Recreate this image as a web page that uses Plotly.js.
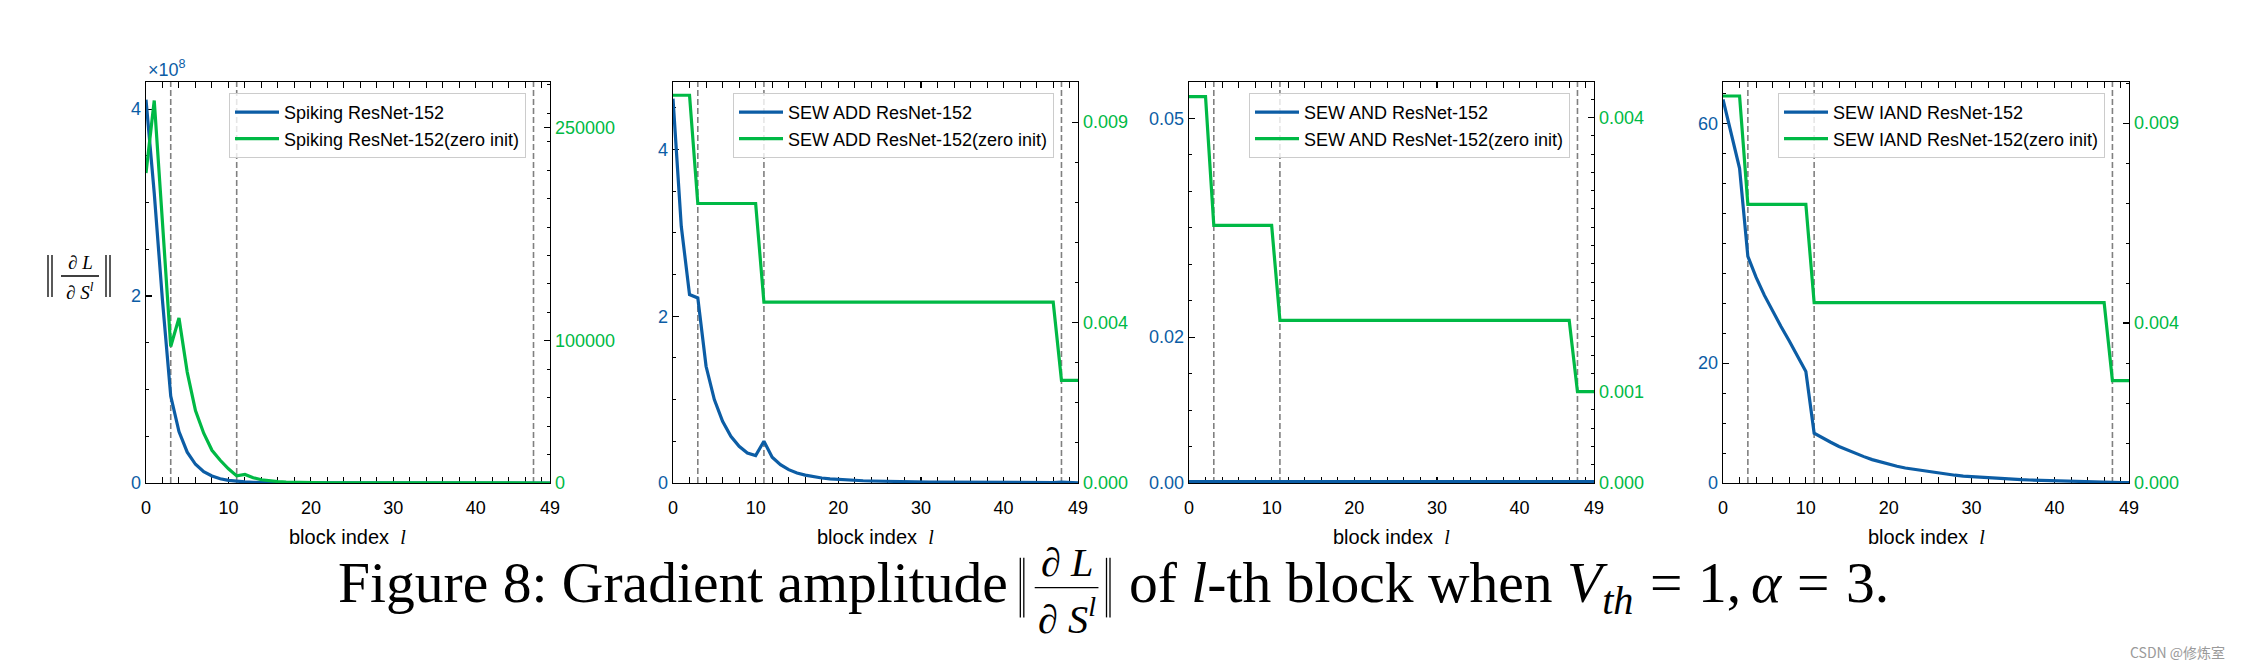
<!DOCTYPE html>
<html>
<head>
<meta charset="utf-8">
<script src="https://cdn.plot.ly/plotly-3.0.1.min.js"></script>
<style>html,body{margin:0;padding:0;background:#fff;}</style>
</head>
<body>
<div id="chart" style="width:2242px;height:669px;"></div>
<script>
// block index 0..49, stage boundaries of ResNet-152 (3, 8, 36, 3 blocks)
var blockIndex = [0,1,2,3,4,5,6,7,8,9,10,11,12,13,14,15,16,17,18,19,20,21,22,23,24,
  25,26,27,28,29,30,31,32,33,34,35,36,37,38,39,40,41,42,43,44,45,46,47,48,49];
var stageBounds = [3, 11, 47];

var seriesNames = ['Spiking ResNet-152', 'SEW ADD ResNet-152', 'SEW AND ResNet-152', 'SEW IAND ResNet-152'];

// left axis values (panel 1 in units of 1e8)
var spikingResNet = [4.10,3.10,1.95,0.93,0.55,0.33,0.20,0.12,0.075,0.045,
  0.028,0.018,0.012,0.008,0.006,0.004,0.003,0.0025,0.002,0.0015,
  0.001,0.001,0.001,0.001,0.001,0.0008,0.0008,0.0007,0.0006,0.0006,
  0.0005,0.0005,0.0004,0.0004,0.0004,0.0003,0.0003,0.0003,0.0003,0.0002,
  0.0002,0.0002,0.0002,0.0002,0.0002,0.0001,0.0001,0.0001,0.0001,0.0001];
var spikingZeroInit = [218000,269000,183000,96000,116000,78000,51000,35000,23000,16000,
  10000,5000,6000,3700,2300,1500,1000,700,500,350,
  250,200,150,120,100,80,70,60,50,40,
  40,30,30,30,20,20,20,20,10,10,
  10,10,10,10,10,10,10,10,10,10];

var sewAdd = [4.61,3.08,2.26,2.22,1.40,1.00,0.74,0.56,0.44,0.36,
  0.33,0.50,0.31,0.22,0.16,0.12,0.095,0.075,0.06,0.05,
  0.042,0.036,0.031,0.027,0.024,0.021,0.019,0.017,0.015,0.014,
  0.013,0.012,0.011,0.010,0.009,0.009,0.008,0.008,0.007,0.007,
  0.006,0.006,0.006,0.005,0.005,0.005,0.005,0.012,0.006,0.002];
var sewAddZeroInit = [0.00967,0.00967,0.00967,0.00697,0.00697,0.00697,0.00697,0.00697,0.00697,0.00697,
  0.00697,0.00451,0.00451,0.00451,0.00451,0.00451,0.00451,0.00451,0.00451,0.00451,
  0.00451,0.00451,0.00451,0.00451,0.00451,0.00451,0.00451,0.00451,0.00451,0.00451,
  0.00451,0.00451,0.00451,0.00451,0.00451,0.00451,0.00451,0.00451,0.00451,0.00451,
  0.00451,0.00451,0.00451,0.00451,0.00451,0.00451,0.00451,0.00256,0.00256,0.00256];

var sewAnd = [0.0002,0.0002,0.0002,0.0002,0.0002,0.0002,0.0002,0.0002,0.0002,0.0002,
  0.0002,0.0002,0.0002,0.0002,0.0002,0.0002,0.0002,0.0002,0.0002,0.0002,
  0.0002,0.0002,0.0002,0.0002,0.0002,0.0002,0.0002,0.0002,0.0002,0.0002,
  0.0002,0.0002,0.0002,0.0002,0.0002,0.0002,0.0002,0.0002,0.0002,0.0002,
  0.0002,0.0002,0.0002,0.0002,0.0002,0.0002,0.0002,0.0002,0.0002,0.0002];
var sewAndZeroInit = [0.00423,0.00423,0.00423,0.00282,0.00282,0.00282,0.00282,0.00282,0.00282,0.00282,
  0.00282,0.00178,0.00178,0.00178,0.00178,0.00178,0.00178,0.00178,0.00178,0.00178,
  0.00178,0.00178,0.00178,0.00178,0.00178,0.00178,0.00178,0.00178,0.00178,0.00178,
  0.00178,0.00178,0.00178,0.00178,0.00178,0.00178,0.00178,0.00178,0.00178,0.00178,
  0.00178,0.00178,0.00178,0.00178,0.00178,0.00178,0.00178,0.00100,0.00100,0.00100];

var sewIand = [64.0,58.2,52.5,37.8,34.3,31.3,28.6,26.1,23.7,21.2,
  18.6,8.3,7.5,6.8,6.1,5.5,4.9,4.4,3.9,3.5,
  3.2,2.8,2.5,2.3,2.0,1.8,1.6,1.45,1.3,1.15,
  1.05,0.95,0.85,0.75,0.68,0.6,0.55,0.5,0.45,0.4,
  0.36,0.32,0.29,0.26,0.23,0.2,0.18,0.08,0.07,0.06];
var sewIandZeroInit = [0.00968,0.00968,0.00968,0.00697,0.00697,0.00697,0.00697,0.00697,0.00697,0.00697,
  0.00697,0.00451,0.00451,0.00451,0.00451,0.00451,0.00451,0.00451,0.00451,0.00451,
  0.00451,0.00451,0.00451,0.00451,0.00451,0.00451,0.00451,0.00451,0.00451,0.00451,
  0.00451,0.00451,0.00451,0.00451,0.00451,0.00451,0.00451,0.00451,0.00451,0.00451,
  0.00451,0.00451,0.00451,0.00451,0.00451,0.00451,0.00451,0.00256,0.00256,0.00256];

// tick labels
var xTickVals = [0, 10, 20, 30, 40, 49];
var leftTickVals = [[0, 2, 4], [0, 2, 4], [0, 0.02, 0.05], [0, 20, 60]];
var leftTickText = [['0', '2', '4'], ['0', '2', '4'], ['0.00', '0.02', '0.05'], ['0', '20', '60']];
var rightTickVals = [[0, 100000, 250000], [0, 0.004, 0.009], [0, 0.001, 0.004], [0, 0.004, 0.009]];
var rightTickText = [['0', '100000', '250000'], ['0.000', '0.004', '0.009'], ['0.000', '0.001', '0.004'], ['0.000', '0.004', '0.009']];

var baseSeries = [spikingResNet, sewAdd, sewAnd, sewIand];
var zeroSeries = [spikingZeroInit, sewAddZeroInit, sewAndZeroInit, sewIandZeroInit];

// layout settings
var W = 2242, H = 669;
var BLUE = '#0C5DA5', GREEN = '#00B945';
var SANS = 'Liberation Sans, Arial, sans-serif';
var SERIF = 'Liberation Serif, Times New Roman, serif';
var boxLeft = [146, 673, 1189, 1723], boxRight = [550, 1078, 1594, 2129];
var boxTop = 82, boxBottom = 483;
var leftRange = [[0, 4.29], [0, 4.81], [0, 0.0550], [0, 66.9]];
var rightRange = [[0, 282000], [0, 0.0100], [0, 0.00439], [0, 0.01003]];
var leftMinor = [0.5, 0.5, 0.005, 5];
var rightMinor = [20000, 0.001, 0.0002, 0.001];

function px(x) { return x / W; }
function py(y) { return 1 - y / H; }

var data = [];
var layout = {
  width: W, height: H,
  margin: {l: 0, r: 0, t: 0, b: 0, pad: 0},
  paper_bgcolor: '#fff', plot_bgcolor: 'rgba(0,0,0,0)',
  font: {family: SANS, size: 18, color: '#000'},
  showlegend: true,
  shapes: [], annotations: []
};

for (var i = 0; i < 4; i++) {
  var xs = i === 0 ? '' : String(i + 1);
  var yl = 2 * i + 1, yr = 2 * i + 2;
  var ylS = yl === 1 ? '' : String(yl);
  var legKey = i === 0 ? 'legend' : 'legend' + (i + 1);

  layout['xaxis' + xs] = {
    domain: [px(boxLeft[i]), px(boxRight[i])],
    anchor: 'y' + ylS,
    range: [0, 49],
    tickmode: 'array', tickvals: xTickVals,
    ticks: 'inside', ticklen: 6, tickwidth: 1.2, tickcolor: '#000',
    ticklabelstandoff: 8,
    showline: true, linecolor: '#000', linewidth: 1.4, mirror: 'allticks',
    showgrid: false, zeroline: false,
    tickfont: {family: SANS, size: 18, color: '#000'},
    minor: {tickmode: 'linear', tick0: 0, dtick: 2, ticks: 'inside', ticklen: 3, tickwidth: 1, tickcolor: '#000', showgrid: false},
    layer: 'below traces', fixedrange: true
  };
  layout['yaxis' + ylS] = {
    domain: [py(boxBottom), py(boxTop)],
    anchor: 'x' + xs,
    range: leftRange[i],
    tickmode: 'array', tickvals: leftTickVals[i], ticktext: leftTickText[i],
    ticks: 'inside', ticklen: 6, tickwidth: 1.2, tickcolor: '#000',
    showline: true, linecolor: '#000', linewidth: 1.4,
    showgrid: false, zeroline: false,
    tickfont: {family: SANS, size: 18, color: BLUE},
    minor: {tickmode: 'linear', tick0: 0, dtick: leftMinor[i], ticks: 'inside', ticklen: 3, tickwidth: 1, tickcolor: '#000', showgrid: false},
    layer: 'below traces', fixedrange: true
  };
  layout['yaxis' + yr] = {
    domain: [py(boxBottom), py(boxTop)],
    anchor: 'x' + xs, overlaying: 'y' + ylS, side: 'right',
    range: rightRange[i],
    tickmode: 'array', tickvals: rightTickVals[i], ticktext: rightTickText[i],
    ticks: 'inside', ticklen: 6, tickwidth: 1.2, tickcolor: '#000',
    showline: true, linecolor: '#000', linewidth: 1.4,
    showgrid: false, zeroline: false,
    tickfont: {family: SANS, size: 18, color: GREEN},
    minor: {tickmode: 'linear', tick0: 0, dtick: rightMinor[i], ticks: 'inside', ticklen: 3, tickwidth: 1, tickcolor: '#000', showgrid: false},
    layer: 'below traces', fixedrange: true
  };

  data.push({
    type: 'scatter', mode: 'lines', x: blockIndex, y: baseSeries[i],
    xaxis: 'x' + xs, yaxis: 'y' + ylS, name: seriesNames[i], legend: legKey,
    line: {color: BLUE, width: 3.2}
  });
  data.push({
    type: 'scatter', mode: 'lines', x: blockIndex, y: zeroSeries[i],
    xaxis: 'x' + xs, yaxis: 'y' + yr, name: seriesNames[i] + '(zero init)', legend: legKey,
    line: {color: GREEN, width: 3.2}
  });

  layout[legKey] = {
    x: px(boxRight[i] - 24), xanchor: 'right', xref: 'paper',
    y: py(93), yanchor: 'top', yref: 'paper',
    bgcolor: 'rgba(255,255,255,0.8)', bordercolor: '#cccccc', borderwidth: 1,
    font: {family: SANS, size: 18, color: '#000'},
    itemwidth: 44,
    tracegroupgap: 0, itemclick: false, itemdoubleclick: false
  };

  stageBounds.forEach(function (b) {
    layout.shapes.push({
      type: 'line', xref: 'x' + xs, yref: 'y' + ylS + ' domain',
      x0: b, x1: b, y0: 0, y1: 1, layer: 'below',
      line: {color: '#808080', width: 1.6, dash: '6px,3px'}
    });
  });

  layout.annotations.push({
    xref: 'paper', yref: 'paper', x: px((boxLeft[i] + boxRight[i]) / 2), y: py(537),
    xanchor: 'center', yanchor: 'middle', showarrow: false,
    text: 'block index  <span style="font-family:Liberation Serif;font-style:italic">l</span>',
    font: {family: SANS, size: 20, color: '#000'}
  });
}

// offset text of panel 1
layout.annotations.push({
  xref: 'paper', yref: 'paper', x: px(146), y: py(68), xanchor: 'left', yanchor: 'middle',
  showarrow: false, text: '\u00d710<sup>8</sup>', font: {family: SANS, size: 18, color: BLUE}
});

// || dL / dS^l ||  built from text pieces and thin lines
function normFraction(cx, cy, half, fs, barHalf, barsLeft, barsRight, gap) {
  [barsLeft, barsLeft + gap, barsRight, barsRight + gap].forEach(function (x) {
    layout.shapes.push({type: 'line', xref: 'paper', yref: 'paper',
      x0: px(x), x1: px(x), y0: py(cy - half), y1: py(cy + half),
      line: {color: '#000', width: 1.3}});
  });
  layout.shapes.push({type: 'line', xref: 'paper', yref: 'paper',
    x0: px(cx - barHalf), x1: px(cx + barHalf), y0: py(cy), y1: py(cy),
    line: {color: '#000', width: 1.3}});
  layout.annotations.push({xref: 'paper', yref: 'paper', x: px(cx), y: py(cy - 1),
    xanchor: 'center', yanchor: 'bottom', showarrow: false,
    text: '\u2202 <i>L</i>', font: {family: SERIF, size: fs, color: '#000'}});
  layout.annotations.push({xref: 'paper', yref: 'paper', x: px(cx), y: py(cy + 1),
    xanchor: 'center', yanchor: 'top', showarrow: false,
    text: '\u2202 <i>S</i><sup><i>l</i></sup>', font: {family: SERIF, size: fs, color: '#000'}});
}
// y label of panel 1
normFraction(80, 276, 21, 19, 19, 48, 106, 4);

// figure caption: pieces flowed left to right from measured text widths,
// scaled so the whole line runs from x=336 to x=1887
var ctx = document.createElement('canvas').getContext('2d');
function tw(txt, size, italic) {
  ctx.font = (italic ? 'italic ' : '') + size + 'px "Liberation Serif"';
  return ctx.measureText(txt).width;
}
var U = 100;
var wA = tw('Figure 8: Gradient amplitude', U);
var wSp = tw(' ', U);
var wNum = tw('\u2202 ', 70) + tw('L', 70, true);
var wDen = tw('\u2202 ', 70) + tw('S', 70, true) + tw('l', 49, true);
var wFrac = Math.max(wNum, wDen) + 10;
var normGap = 11, barGap = 14;
var wNorm = normGap + barGap + wFrac + barGap + normGap;
var wB = tw('of ', U) + tw('l', U, true) + tw('-th block when', U);
var thick = 27.8, thin = 16.7;
var wV = tw('V', U, true) + tw('th', 70, true);
var wEq = tw('=', U), w1 = tw('1,', U), wAl = tw('\u03b1', U, true), w3 = tw('3.', U);
var wMath = wV + thick + wEq + thick + w1 + thin + wAl + thick + wEq + thick + w3;
var total = wA + wSp + wNorm + wSp + wB + wSp + wMath;
var capStart = 336, capEnd = 1887, capBase = 602;
var k = (capEnd - capStart) / total;
var capSize = U * k;
var capTop = capBase - 0.891 * capSize - 2;

function capText(x, txt) {
  layout.annotations.push({
    xref: 'paper', yref: 'paper', x: px(x), y: py(capTop), xanchor: 'left', yanchor: 'top',
    showarrow: false, text: txt, font: {family: SERIF, size: capSize, color: '#000'}
  });
}
var cx = capStart;
capText(cx, 'Figure 8: Gradient amplitude');
cx += (wA + wSp) * k;
var fracMid = cx + (normGap + barGap + wFrac / 2) * k;
normFraction(fracMid, capBase - 0.25 * capSize, 0.5 * capSize + 1, 0.7 * capSize,
  wFrac * k / 2, cx, cx + (normGap + 2 * barGap + wFrac) * k, normGap * k * 0.55);
cx += (wNorm + wSp) * k;
capText(cx, 'of <i>l</i>-th block when');
cx += (wB + wSp) * k;
capText(cx, '<i>V</i><sub><i>th</i></sub>');
cx += (wV + thick) * k;
capText(cx, '=');
cx += (wEq + thick) * k;
capText(cx, '1,');
cx += (w1 + thin) * k;
capText(cx, '<i>\u03b1</i>');
cx += (wAl + thick) * k;
capText(cx, '=');
cx += (wEq + thick) * k;
capText(cx, '3.');

// watermark
layout.annotations.push({
  xref: 'paper', yref: 'paper', x: px(2227), y: py(652), xanchor: 'right', yanchor: 'middle',
  showarrow: false, text: 'CSDN @修炼室',
  font: {family: 'Noto Sans CJK SC, sans-serif', size: 14, color: '#9a9a9a'}
});

Plotly.newPlot('chart', data, layout, {displayModeBar: false, staticPlot: true});
</script>
</body>
</html>
